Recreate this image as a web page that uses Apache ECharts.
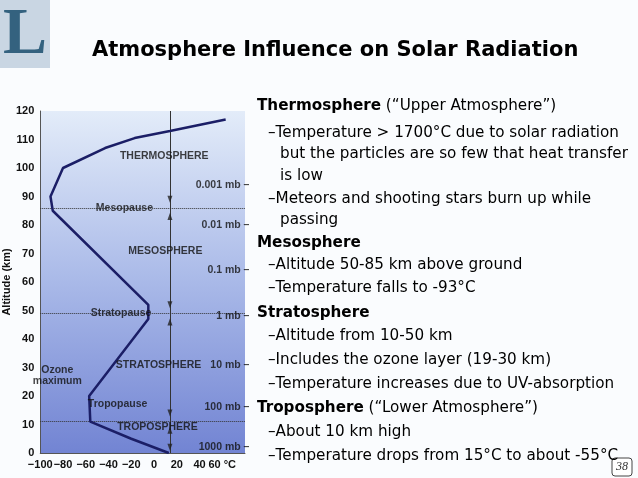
<!DOCTYPE html>
<html><head><meta charset="utf-8">
<script src="https://cdn.jsdelivr.net/npm/echarts@6/dist/echarts.min.js"></script>
<style>html,body{margin:0;padding:0;background:#fff}#c{width:638px;height:478px}</style>
</head><body><div id="c"></div>
<script>
// temperature profile (°C, km)
var profileTemp = [13, -20, -56, -57, -5, -5, -89, -91, -80, -43, -17, 14, 63];
var profileAlt  = [0, 5, 11, 20, 47, 52, 85, 90, 100, 107, 110.5, 113, 117];
var pauseAlt = [11, 49, 86];
var pressureLabels = ['0.001 mb', '0.01 mb', '0.1 mb', '1 mb', '10 mb', '100 mb', '1000 mb'];
var pressureAlt = [94, 80, 64, 48, 31, 16, 2];
var layerNames = ['THERMOSPHERE', 'MESOSPHERE', 'STRATOSPHERE', 'TROPOSPHERE'];
var layerPos = [[9, 104], [10, 71], [4, 31], [3, 9]];

var bullets = [
  ['b', 'Thermosphere', ' (“Upper Atmosphere”)'],
  ['s', '–Temperature > 1700°C due to solar radiation'],
  ['c', 'but the particles are so few that heat transfer'],
  ['c', 'is low'],
  ['s', '–Meteors and shooting stars burn up while'],
  ['c', 'passing'],
  ['b', 'Mesosphere', ''],
  ['s', '–Altitude 50-85 km above ground'],
  ['s', '–Temperature falls to -93°C'],
  ['b', 'Stratosphere', ''],
  ['s', '–Altitude from 10-50 km'],
  ['s', '–Includes the ozone layer (19-30 km)'],
  ['s', '–Temperature increases due to UV-absorption'],
  ['b', 'Troposphere', ' (“Lower Atmosphere”)'],
  ['s', '–About 10 km high'],
  ['s', '–Temperature drops from 15°C to about -55°C']
];
var bulletY = [106, 133, 154, 176, 199, 220, 243, 265, 288, 313, 336, 360, 384, 408, 432, 456];

var chart = echarts.init(document.getElementById('c'));
var fnt = 'Liberation Sans, Arial, sans-serif';
var txt = 'DejaVu Sans, Verdana, sans-serif';

var graphics = [
  {type: 'rect', shape: {x: 0, y: 0, width: 50, height: 68}, style: {fill: '#c9d6e3'}},
  {type: 'text', style: {x: 25, y: 36, text: 'L', font: 'bold 66px Liberation Serif, serif', fill: '#34627f', align: 'center', verticalAlign: 'middle'}},
  {type: 'text', style: {x: 92, y: 51, text: 'Atmosphere Influence on Solar Radiation', font: 'bold 21px ' + txt, fill: '#000', verticalAlign: 'middle'}},
  {type: 'rect', shape: {x: 612, y: 458, width: 20, height: 18, r: 3}, style: {fill: '#fff', stroke: '#444', lineWidth: 1}},
  {type: 'text', style: {x: 622, y: 467, text: '38', font: 'italic 12px Liberation Serif, serif', fill: '#333', align: 'center', verticalAlign: 'middle'}}
];
bullets.forEach(function (b, i) {
  var x = b[0] === 'b' ? 257 : (b[0] === 's' ? 268 : 280);
  var y = bulletY[i];
  if (b[0] === 'b') {
    graphics.push({type: 'text', style: {x: x, y: y, text: '{h|' + b[1] + '}' + b[2], font: '15.2px ' + txt, fill: '#000', verticalAlign: 'middle',
      rich: {h: {fontWeight: 'bold', fontSize: 15.2, fontFamily: txt}}}});
  } else {
    graphics.push({type: 'text', style: {x: x, y: y, text: b[1], font: '15.2px ' + txt, fill: '#000', verticalAlign: 'middle'}});
  }
});

var pts = profileTemp.map(function (t, i) { return [t, profileAlt[i]]; });
var labelData = [];
layerNames.forEach(function (n, i) { labelData.push({value: layerPos[i], label: {formatter: n, position: 'inside'}}); });
pressureLabels.forEach(function (n, i) { labelData.push({value: [76, pressureAlt[i]], label: {formatter: n + ' –', position: 'left', offset: [14, 0]}}); });
labelData.push({value: [-26, 86], label: {formatter: 'Mesopause', position: 'inside'}});
labelData.push({value: [-29, 49], label: {formatter: 'Stratopause', position: 'inside'}});
labelData.push({value: [-32, 17], label: {formatter: 'Tropopause', position: 'inside'}});
labelData.push({value: [-85, 27], label: {formatter: 'Ozone\nmaximum', position: 'inside', align: 'center', lineHeight: 11}});

var arrows = [];
pauseAlt.forEach(function (a) {
  arrows.push({value: [14, a + 3], symbolRotate: 180});
  arrows.push({value: [14, a - 3], symbolRotate: 0});
});
arrows.push({value: [14, 2], symbolRotate: 180});

chart.setOption({
  backgroundColor: '#fafcfe',
  animation: false,
  graphic: graphics,
  grid: {left: 37, right: 393, top: 111, bottom: 25,
    show: true, borderWidth: 0,
    backgroundColor: new echarts.graphic.LinearGradient(0, 0, 0, 1, [
      {offset: 0, color: '#e3ecf9'}, {offset: 0.5, color: '#a9b9e8'}, {offset: 1, color: '#7284d3'}])},
  xAxis: {type: 'value', min: -100, max: 80, interval: 20,
    axisLine: {show: true, onZero: false, lineStyle: {color: '#555'}}, axisTick: {show: false}, splitLine: {show: false},
    axisLabel: {color: '#111', fontFamily: fnt, fontSize: 11, fontWeight: 'bold', margin: 6,
      formatter: function (v) { return v === 80 ? '' : (v === 60 ? '60 °C' : (v < 0 ? '−' + (-v) : v)); }}},
  yAxis: {type: 'value', min: 0, max: 120, interval: 10,
    name: 'Altitude (km)', nameLocation: 'middle', nameGap: 24, nameRotate: 90,
    nameTextStyle: {fontFamily: fnt, fontSize: 11, fontWeight: 'bold', color: '#111'},
    axisLine: {show: true, onZero: false, lineStyle: {color: '#555'}}, axisTick: {show: false}, splitLine: {show: false},
    axisLabel: {color: '#111', fontFamily: fnt, fontSize: 11, fontWeight: 'bold', margin: 6}},
  series: [
    {type: 'line', data: pts, symbol: 'none', lineStyle: {color: '#1b1e66', width: 2.5}, z: 5,
      markLine: {silent: true, symbol: 'none', label: {show: false},
        data: pauseAlt.map(function (a) { return {yAxis: a, lineStyle: {type: 'dotted', color: '#333', width: 1}}; })
          .concat([{xAxis: 14, lineStyle: {type: 'solid', color: '#333', width: 1}}])}},
    {type: 'scatter', data: arrows, symbol: 'triangle', symbolSize: [5, 7], itemStyle: {color: '#222'}, z: 6},
    {type: 'scatter', data: labelData, symbolSize: 0, z: 7,
      label: {show: true, color: '#111', fontFamily: fnt, fontSize: 10.5, fontWeight: 'bold'}}
  ]
});
</script></body></html>
